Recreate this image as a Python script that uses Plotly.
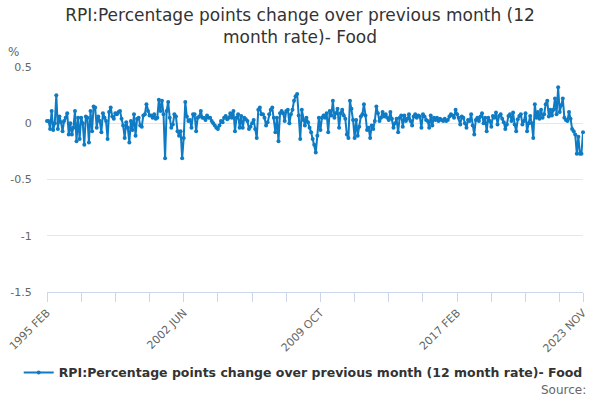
import pandas as pd
import plotly.graph_objects as go

# monthly values, 1995 FEB .. 2023 NOV
y1995 = [0.02, 0.02, -0.05, 0.11, -0.06, 0.00, 0.25, -0.05, 0.06, 0.01, -0.07]
y1996 = [0.02, 0.05, 0.09, -0.10, 0.00, -0.10, -0.04, 0.11, -0.16, 0.05, -0.14, 0.05]
y1997 = [0.00, -0.19, 0.06, 0.05, -0.17, 0.11, -0.07, 0.15, 0.14, -0.04, 0.06, 0.02]
y1998 = [-0.08, 0.09, 0.05, 0.02, -0.14, 0.10, 0.14, 0.06, 0.04, 0.09, 0.08, 0.10]
y1999 = [0.11, 0.04, -0.02, -0.13, 0.01, -0.04, -0.17, 0.02, -0.06, 0.08, -0.11, 0.04]
y2000 = [0.05, -0.02, -0.03, 0.07, 0.08, 0.17, 0.11, 0.07, 0.07, 0.05, 0.08, 0.04]
y2001 = [0.05, 0.21, 0.11, 0.20, 0.08, -0.31, 0.11, 0.19, 0.05, -0.04, -0.01, 0.08]
y2002 = [0.06, -0.07, -0.11, -0.07, -0.31, -0.13, 0.19, 0.06, 0.02, 0.03, -0.04, 0.08]
y2003 = [0.08, -0.07, 0.05, 0.06, 0.11, 0.05, 0.05, 0.03, 0.07, 0.05, 0.05, 0.02]
y2004 = [0.00, -0.02, -0.04, -0.05, -0.02, 0.02, 0.01, 0.05, 0.065, 0.035, 0.05, 0.09]
y2005 = [0.05, 0.11, -0.07, 0.05, 0.08, -0.04, 0.065, -0.04, 0.05, 0.035, 0.02, -0.05]
y2006 = [-0.03, 0.00, 0.03, -0.05, -0.13, 0.12, 0.14, 0.08, 0.08, 0.05, -0.02, 0.01]
y2007 = [0.08, 0.12, 0.14, 0.05, -0.08, 0.05, -0.16, 0.09, 0.11, 0.09, 0.02, 0.11]
y2008 = [0.12, 0.00, 0.08, 0.12, 0.20, 0.24, 0.26, 0.07, -0.14, 0.12, 0.03, -0.02]
y2009 = [0.05, 0.01, -0.04, -0.08, -0.14, -0.19, -0.26, -0.11, 0.05, -0.06, 0.05, 0.07]
y2010 = [0.05, 0.09, -0.08, 0.11, 0.07, 0.20, 0.05, 0.09, 0.13, -0.04, 0.09, 0.12]
y2011 = [0.07, 0.04, -0.10, -0.13, 0.20, 0.13, 0.03, -0.13, 0.03, -0.11, -0.03, 0.06]
y2012 = [0.08, 0.17, 0.07, -0.06, -0.04, -0.13, -0.02, -0.05, 0.02, 0.15, 0.09, 0.02]
y2013 = [0.05, 0.10, 0.06, 0.08, 0.05, 0.03, 0.10, 0.04, -0.04, 0.00, 0.04, -0.08]
y2014 = [0.05, 0.07, -0.03, 0.07, 0.02, 0.04, 0.08, 0.02, -0.02, 0.06, 0.08, 0.05]
y2015 = [0.07, 0.06, -0.04, 0.08, 0.06, 0.03, 0.02, -0.04, 0.07, -0.02, 0.05, 0.03]
y2016 = [0.05, 0.02, 0.04, 0.03, 0.02, 0.04, 0.02, 0.03, 0.06, 0.08, 0.07, 0.05]
y2017 = [0.12, 0.08, 0.05, -0.01, 0.06, 0.05, 0.00, -0.04, 0.03, 0.02, 0.08, -0.02]
y2018 = [-0.10, 0.03, 0.05, 0.02, 0.06, 0.09, 0.00, 0.05, -0.07, 0.05, 0.02, -0.03]
y2019 = [0.065, 0.05, 0.095, -0.01, 0.065, 0.08, 0.04, 0.01, -0.05, -0.01, 0.065, 0.08]
y2020 = [0.02, 0.095, -0.01, -0.07, 0.035, 0.065, 0.08, -0.01, 0.02, 0.09, -0.07, 0.00]
y2021 = [0.065, 0.00, -0.13, 0.17, 0.05, 0.10, 0.04, 0.12, 0.05, 0.08, 0.17, 0.20]
y2022 = [0.06, 0.12, 0.07, 0.12, 0.22, 0.08, 0.32, 0.10, 0.16, 0.22, 0.05, 0.03]
y2023 = [0.02, 0.10, 0.04, -0.05, -0.07, -0.10, -0.27, -0.12, -0.27, -0.27, -0.08]

values = (y1995 + y1996 + y1997 + y1998 + y1999 + y2000 + y2001 + y2002 + y2003
          + y2004 + y2005 + y2006 + y2007 + y2008 + y2009 + y2010 + y2011 + y2012
          + y2013 + y2014 + y2015 + y2016 + y2017 + y2018 + y2019 + y2020 + y2021
          + y2022 + y2023)

months = pd.date_range("1995-02-01", "2023-11-01", freq="MS")
labels = [d.strftime("%Y %b").upper() for d in months]

name = "RPI:Percentage points change over previous month (12 month rate)- Food"

# tick every 22 months, label every 88
tick_vals = labels[::22] + [labels[-1]]
tick_text = [l if i % 4 == 0 else "" for i, l in enumerate(labels[::22])] + [labels[-1]]

fig = go.Figure()
fig.add_trace(go.Scatter(
    x=labels,
    y=values,
    mode="lines+markers",
    line=dict(width=2, color="#0f7bc4"),
    marker=dict(size=4, color="#0f7bc4"),
    name=name,
    cliponaxis=False
    ))

fig.update_layout(width=600, height=400,
    margin=dict(l=47, r=17, t=67, b=108, autoexpand=False),
    font=dict(family="DejaVu Sans", size=11, color="#666666"),
    paper_bgcolor="#ffffff",
    plot_bgcolor="#ffffff",
    title=dict(text="RPI:Percentage points change over previous month (12<br>month rate)- Food",
               x=0.5, xanchor="center", y=0.948, yanchor="middle",
               font=dict(size=17, color="#333333")),
    showlegend=True,
    legend=dict(orientation="h", x=0.478, xanchor="center",
                yref="container", y=0.068, yanchor="middle",
                itemwidth=30,
                font=dict(size=12.5, color="#333333", weight="bold")),
    annotations=[
        dict(text="%", xref="paper", yref="paper", x=-0.062, y=1.067,
             xanchor="center", yanchor="middle",
             showarrow=False, font=dict(size=12, color="#666666")),
        dict(text="Source:", xref="paper", yref="paper", x=1.01, y=-0.436,
             xanchor="right", yanchor="middle", showarrow=False,
             font=dict(size=12, color="#666666")),
    ])
fig.update_xaxes(
    type="category",
    range=[0, len(labels) - 1],
    tickmode="array",
    tickvals=tick_vals,
    ticktext=tick_text,
    tickangle=-45,
    ticks="outside",
    ticklen=9,
    tickcolor="#ccd6eb",
    showline=True,
    linewidth=1,
    linecolor="#ccd6eb",
    showgrid=False,
    zeroline=False,
    automargin=False
)
fig.update_yaxes(
    range=[-1.5, 0.5],
    tickvals=[-1.5, -1, -0.5, 0, 0.5],
    ticktext=["-1.5", "-1", "-0.5", "0", "0.5"],
    gridcolor="#e6e6e6",
    showline=False,
    zeroline=False,
    ticks="outside",
    ticklen=12,
    tickcolor="rgba(0,0,0,0)",
    automargin=False
)

# page body has a default 8px margin, drop it so the figure sits at 0,0
fig.write_html("out.html", config={"displayModeBar": False},
               post_script="document.body.style.margin='0';")
